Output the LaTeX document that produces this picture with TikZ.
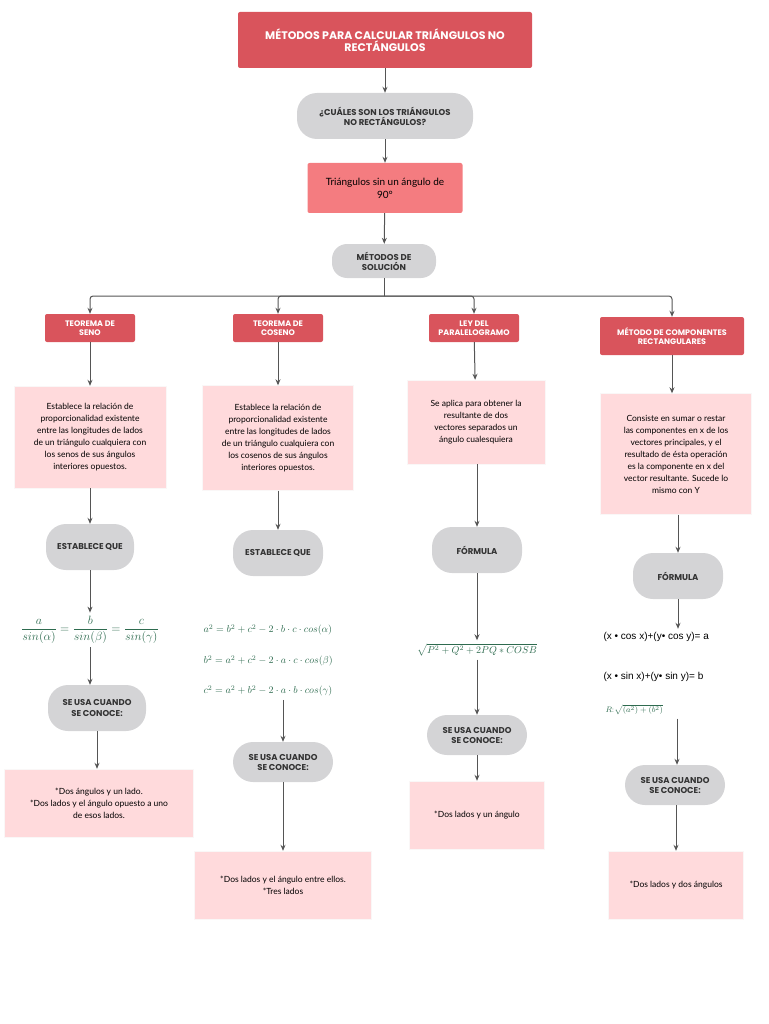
\documentclass[tikz,border=0pt]{standalone}
\usepackage{amsmath}
\usepackage{fontspec}
\setmainfont{Liberation Sans}
\newfontfamily\hdr{Poppins}
\newfontfamily\body{Lato}
\usetikzlibrary{arrows.meta,positioning}
\definecolor{dred}{HTML}{D9545C}
\definecolor{lpink}{HTML}{FFDADC}
\definecolor{mpink}{HTML}{F47C80}
\definecolor{lgray}{HTML}{D4D4D6}
\definecolor{fgreen}{HTML}{2E6B4F}
\definecolor{lin}{HTML}{555555}
\begin{document}
\begin{tikzpicture}[x=1pt,y=-1pt,
  hd/.style={fill=dred,rounded corners=2pt,text=white,font=\hdr\bfseries\fontsize{8}{9}\selectfont,align=center,inner sep=2pt},
  pill/.style={fill=lgray,rounded corners=20pt,font=\hdr\bfseries\fontsize{8.5}{10}\selectfont,text=black!80,align=center,inner sep=2pt},
  desc/.style={fill=lpink,draw=lpink!80!black!10,text=black,font=\body\fontsize{8.5}{12}\selectfont,align=center,inner sep=3pt},
  fm/.style={text=fgreen,font=\fontsize{10}{12}\selectfont},
  ar/.style={-{Stealth[length=6pt,width=5pt]},draw=lin,line width=1pt}]
\useasboundingbox (0,0) rectangle (768,1024);
\node[hd,minimum width=294,minimum height=56,font=\hdr\bfseries\fontsize{11}{12}\selectfont] (t) at (385,40) {MÉTODOS PARA CALCULAR TRIÁNGULOS NO\\RECTÁNGULOS};
\node[pill,minimum width=176,minimum height=46] (q) at (385,116) {¿CUÁLES SON LOS TRIÁNGULOS\\NO RECTÁNGULOS?};
\node[fill=mpink,rounded corners=2pt,minimum width=155,minimum height=50,align=center,font=\body\fontsize{10}{13}\selectfont] (tr) at (385,188) {Triángulos sin un ángulo de\\90°};
\node[pill,minimum width=104,minimum height=34,rounded corners=15pt] (m) at (384,261) {MÉTODOS DE\\SOLUCIÓN};
\draw[ar] (t) -- (q); \draw[ar] (q) -- (tr); \draw[ar] (tr) -- (m);
% headers
\node[hd,minimum width=90,minimum height=28] (h1) at (90,328) {TEOREMA DE\\SENO};
\node[hd,minimum width=90,minimum height=28] (h2) at (278,328) {TEOREMA DE\\COSENO};
\node[hd,minimum width=90,minimum height=28] (h3) at (474,328) {LEY DEL\\PARALELOGRAMO};
\node[hd,minimum width=144,minimum height=38] (h4) at (672,336) {MÉTODO DE COMPONENTES\\RECTANGULARES};
\coordinate (b) at (384,296);
\draw[lin,line width=1pt,rounded corners=3pt] (m.south) -- (b);
\draw[ar,rounded corners=3pt] (b) -| (h1.north);
\draw[ar,rounded corners=3pt] (b) -| (h2.north);
\draw[ar,rounded corners=3pt] (b) -| (h3.north);
\draw[ar,rounded corners=3pt] (b) -| (h4.north);
% descriptions
\node[desc,minimum width=152,minimum height=102] (d1) at (90,437) {Establece la relación de\\proporcionalidad existente\\entre las longitudes de lados\\de un triángulo cualquiera con\\los senos de sus ángulos\\interiores opuestos.};
\node[desc,minimum width=151,minimum height=105] (d2) at (278,438) {Establece la relación de\\proporcionalidad existente\\entre las longitudes de lados\\de un triángulo cualquiera con\\los cosenos de sus ángulos\\interiores opuestos.};
\node[desc,minimum width=138,minimum height=84] (d3) at (476,422) {Se aplica para obtener la\\resultante de dos\\vectores separados un\\ángulo cualesquiera};
\node[desc,minimum width=151,minimum height=121] (d4) at (676,454) {Consiste en sumar o restar\\las componentes en x de los\\vectores principales, y el\\resultado de ésta operación\\es la componente en x del\\vector resultante. Sucede lo\\mismo con Y};
\draw[ar] (h1) -- (d1); \draw[ar] (h2) -- (d2); \draw[ar] (h3) -- (d3); \draw[ar] (h4.south) -- (h4.south|-d4.north);
% pills
\node[pill,minimum width=88,minimum height=46] (e1) at (90,547) {ESTABLECE QUE};
\node[pill,minimum width=90,minimum height=46] (e2) at (278,553) {ESTABLECE QUE};
\node[pill,minimum width=90,minimum height=46] (e3) at (477,550) {FÓRMULA};
\node[pill,minimum width=90,minimum height=46] (e4) at (678,576) {FÓRMULA};
\draw[ar] (d1) -- (e1); \draw[ar] (d2) -- (e2); \draw[ar] (d3.south-|e3) -- (e3); \draw[ar] (d4.south-|e4) -- (e4);
% formulas
\node[fm,font=\fontsize{12}{14}\selectfont] (f1) at (90,630) {$\dfrac{a}{sin(\alpha)}=\dfrac{b}{sin(\beta)}=\dfrac{c}{sin(\gamma)}$};
\node[fm,anchor=west] (f2a) at (200,630) {$a^2=b^2+c^2-2\cdot b\cdot c\cdot cos(\alpha)$};
\node[fm,anchor=west] (f2b) at (200,661) {$b^2=a^2+c^2-2\cdot a\cdot c\cdot cos(\beta)$};
\node[fm,anchor=west] (f2c) at (200,691) {$c^2=a^2+b^2-2\cdot a\cdot b\cdot cos(\gamma)$};
\node[fm] (f3) at (477,650) {$\sqrt{P^2+Q^2+2PQ*COSB}$};
\node[anchor=west,font=\fontsize{10}{12}\selectfont] (f4a) at (600,637) {(x • cos x)+(y• cos y)= a};
\node[anchor=west,font=\fontsize{10}{12}\selectfont] (f4b) at (600,677) {(x • sin x)+(y• sin y)= b};
\node[fm,anchor=west,font=\fontsize{8}{10}\selectfont] (f4c) at (602,710) {$R{:}\sqrt{(a^2)+(b^2)}$};
\draw[ar] (e1) -- (f1.north-|e1); \draw[ar] (e3) -- (f3); \draw[ar] (e4) -- (e4|-f4a.north);
% se usa
\node[pill,minimum width=98,minimum height=46] (s1) at (97,708) {SE USA CUANDO\\SE CONOCE:};
\node[pill,minimum width=100,minimum height=40] (s2) at (283,762) {SE USA CUANDO\\SE CONOCE:};
\node[pill,minimum width=100,minimum height=40] (s3) at (477,735) {SE USA CUANDO\\SE CONOCE:};
\node[pill,minimum width=100,minimum height=40] (s4) at (675,785) {SE USA CUANDO\\SE CONOCE:};
\draw[ar] (f1.south-|90,0) -- (s1.north-|90,0);
\draw[ar] (f2c.south-|283,0) -- (s2);
\draw[ar] (f3.south-|s3) -- (s3);
\draw[ar] (f4c.south-|677,0) -- (s4.north-|677,0);
% bottom
\node[desc,minimum width=189,minimum height=68] (r1) at (99,803) {*Dos ángulos y un lado.\\*Dos lados y el ángulo opuesto a uno\\de esos lados.};
\node[desc,minimum width=177,minimum height=68] (r2) at (283,885) {*Dos lados y el ángulo entre ellos.\\*Tres lados};
\node[desc,minimum width=135,minimum height=68] (r3) at (477,815) {*Dos lados y un ángulo};
\node[desc,minimum width=135,minimum height=68] (r4) at (676,885) {*Dos lados y dos ángulos};
\draw[ar] (s1) -- (s1|-r1.north); \draw[ar] (s2) -- (r2); \draw[ar] (s3) -- (r3); \draw[ar] (s4.south-|r4) -- (r4);
\end{tikzpicture}
\end{document}
